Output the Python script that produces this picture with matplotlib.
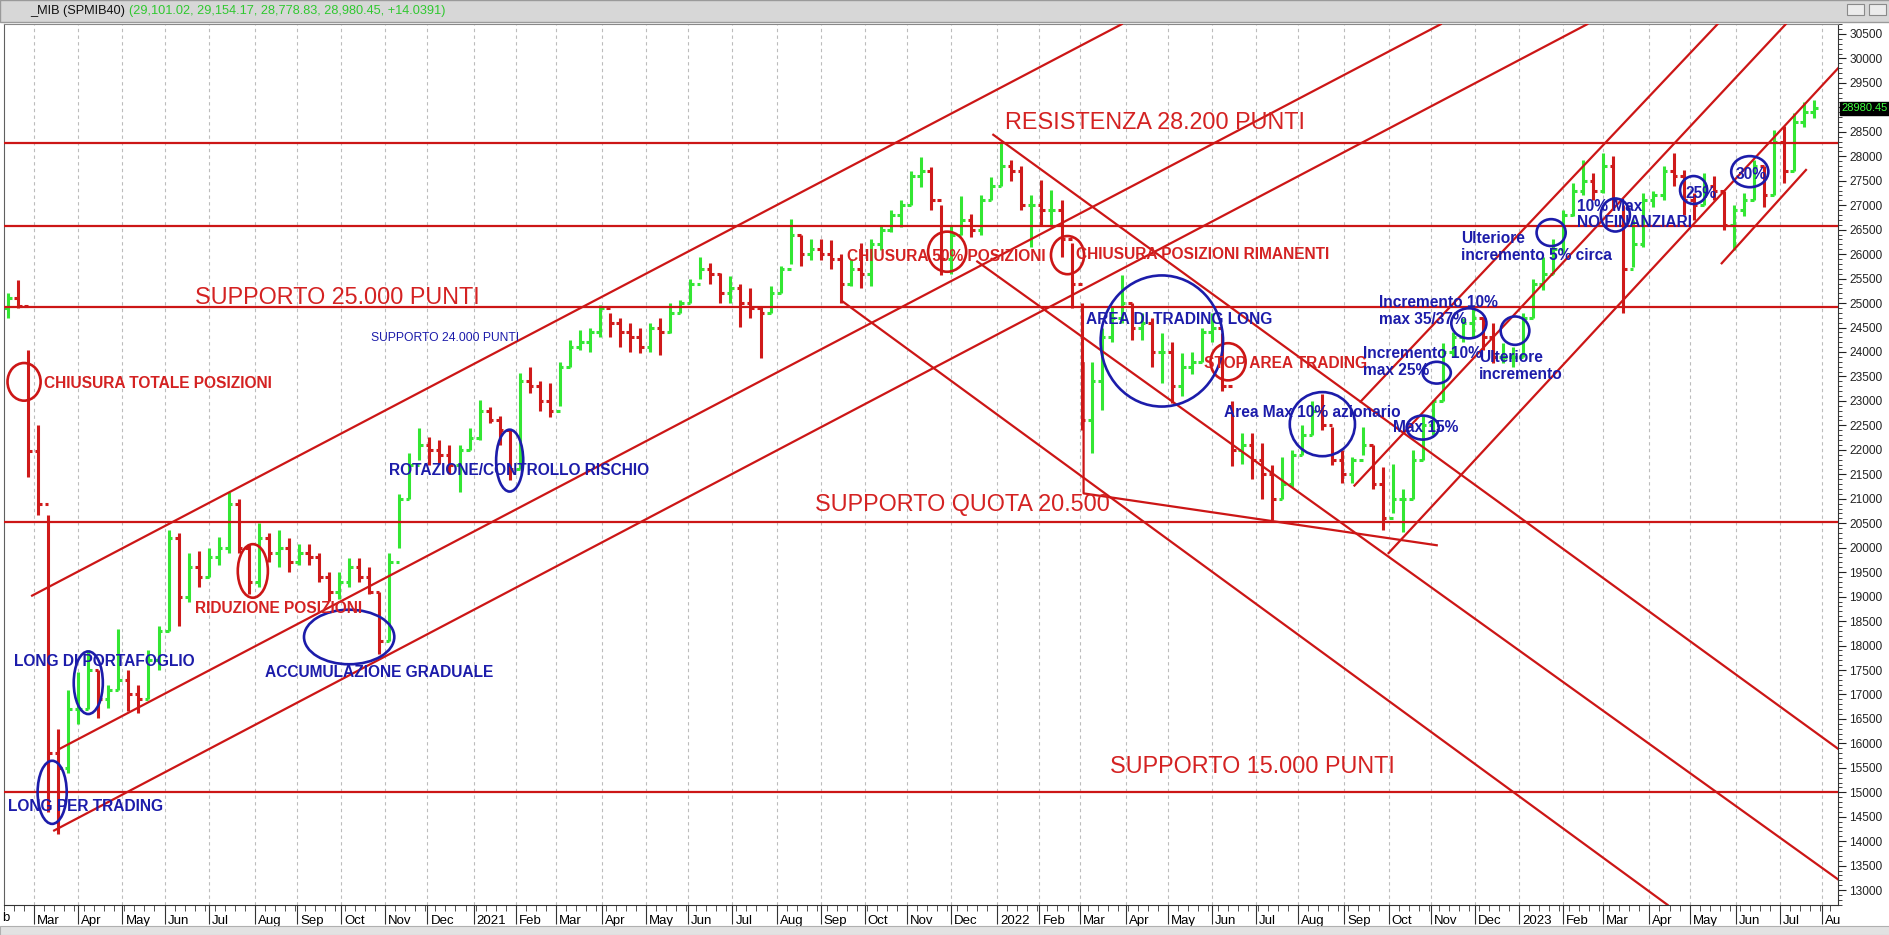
import numpy as np
import pandas as pd
import matplotlib
matplotlib.use("Agg")
import matplotlib.pyplot as plt
from matplotlib.collections import LineCollection
from matplotlib.patches import Ellipse, Rectangle
from matplotlib.transforms import ScaledTranslation, blended_transform_factory

plt.rcParams['font.family'] = ['Liberation Sans', 'DejaVu Sans']

# FTSE MIB, weekly bars (weeks start 2020-02-10)
first_open = 24900
week_high = [
    25200, 25480, 24040,                      # feb 2020
    22500, 20660, 16300, 17100, 17460,        # mar
    17900, 17500, 17200, 18330,               # apr
    17500, 17200, 17900, 18400,               # may
    20370, 20300, 19900, 19930, 20000,        # jun
    20220, 21130, 21000, 20080,               # jul
    20510, 20300, 20370, 20200, 20080,        # aug
    20080, 19900, 19500, 19500,               # sep
    19790, 19790, 19600, 19100,               # oct
    19900, 21090, 21930, 22440, 22270,        # nov
    22200, 22100, 22100, 22440,               # dec
    23020, 22880, 22700, 22400,               # jan 2021
    23570, 23700, 23400, 23360,               # feb
    23800, 24250, 24450, 24500, 24970,        # mar
    24800, 24700, 24590, 24500,               # apr
    24600, 24700, 25000, 25070, 25500,        # may
    25950, 25820, 25620, 25550,               # jun
    25400, 25300, 24930, 25340,               # jul
    25750, 26710, 26400, 26300, 26300,        # aug
    26290, 26000, 25900, 26220,               # sep
    26300, 26600, 26900, 27110,               # oct
    27700, 27990, 27790, 27000, 26600,        # nov
    27180, 26830, 27200, 27580,               # dec
    28265, 27920, 27800, 27200, 27520,        # jan 2022
    27310, 27100, 26220, 25000,               # feb
    23800, 24500, 24930, 25570,               # mar
    25000, 24800, 24700, 24380,               # apr
    24200, 23970, 24000, 24500, 24790,        # may
    24380, 23000, 22340, 22340,               # jun
    22130, 21700, 21860, 22000,               # jul
    22500, 23000, 23150, 22470, 22000,        # aug
    21860, 22470, 22100, 21650,               # sep
    21720, 21200, 22000, 22700, 23020,        # oct
    24180, 24400, 24700, 24930,               # nov
    24720, 24600, 24180, 24100,               # dec
    24790, 25500, 25950, 26300, 26900,        # jan 2023
    27450, 27930, 27650, 28060,               # feb
    28000, 27000, 26700, 27240,               # mar
    27300, 27800, 28060, 27720,               # apr
    27240, 27650, 27600, 27300, 27000,        # may
    27240, 27930, 27800, 28540,               # jun
    28610, 28880, 29100, 29154,               # jul
]
week_low = [
    24700, 24900, 21450,
    20660, 14600, 14150, 15400, 16400,
    16700, 16520, 16730, 17100,
    16660, 16620, 16900, 17500,
    18300, 18400, 18900, 19200, 19400,
    19640, 19900, 19900, 19060,
    19200, 19700, 19600, 19500, 19640,
    19640, 19300, 18910, 18950,
    19200, 19300, 19060, 17820,
    18100, 20000, 21000, 21800, 21700,
    21720, 21500, 21140, 22000,
    22200, 22540, 22100, 21380,
    21600, 23160, 22800, 22680,
    22900, 23700, 24050, 24000, 24300,
    24300, 24110, 24000, 23980,
    24000, 23940, 24390, 24800, 25000,
    25500, 25400, 25000, 25000,
    24520, 24700, 23880, 24800,
    25200, 25800, 25750, 25890, 25890,
    25700, 25000, 25340, 25300,
    25340, 26090, 26450, 26560,
    27000, 27380, 26900, 25575, 25600,
    26400, 26360, 26400, 27100,
    27400, 27500, 26900, 26150, 26600,
    26560, 25950, 24900, 22400,
    21930, 22810, 24200, 24600,
    24250, 24250, 23700, 23360,
    22950, 23100, 23560, 23800, 24200,
    23200, 21660, 21720, 21400,
    21000, 20560, 21000, 21250,
    21900, 22300, 22400, 21700, 21320,
    21320, 21900, 21200, 20360,
    20700, 20330, 21000, 21800, 22300,
    23000, 23900, 24200, 24300,
    24040, 23770, 23770, 23700,
    23900, 24700, 25270, 25600, 26000,
    26770, 27200, 27110, 27240,
    26900, 24790, 25740, 26150,
    26970, 27100, 27400, 26800,
    26700, 27000, 27110, 26500, 26080,
    26770, 27100, 26970, 27200,
    27450, 27700, 28600, 28778,
]
week_close = [
    25100, 24950, 21980,
    20900, 15800, 15500, 16700, 16700,
    17500, 16900, 17100, 17300,
    17000, 16900, 17700, 18300,
    20200, 19000, 19600, 19400, 19800,
    20000, 20900, 20000, 19300,
    20200, 19900, 20000, 19700, 19900,
    19800, 19400, 19100, 19300,
    19600, 19400, 19100, 18100,
    19700, 21000, 21700, 22100, 22000,
    21900, 21700, 22000, 22250,
    22800, 22600, 22400, 21600,
    23400, 23300, 23000, 22800,
    23700, 24100, 24200, 24400, 24900,
    24600, 24400, 24300, 24100,
    24500, 24400, 24800, 25000, 25400,
    25700, 25600, 25200, 25300,
    25000, 24900, 24800, 25200,
    25700, 26400, 26000, 26100, 26000,
    25900, 25400, 25700, 25600,
    26200, 26500, 26800, 27000,
    27600, 27700, 27100, 25900, 26400,
    26700, 26500, 27100, 27400,
    27800, 27700, 27000, 27000, 26900,
    26900, 26300, 25400, 22600,
    23400, 24300, 24700, 25000,
    24500, 24600, 24000, 24000,
    23300, 23700, 23800, 24400, 24500,
    23300, 22000, 22100, 21800,
    21500, 21000, 21300, 21900,
    22300, 22800, 22500, 21800, 21500,
    21800, 22100, 21300, 20600,
    21000, 21000, 21800, 22500, 23000,
    24000, 24300, 24600, 24700,
    24300, 23900, 23900, 23900,
    24700, 25400, 25600, 26100, 26800,
    27300, 27500, 27300, 27800,
    27100, 25700, 26200, 27100,
    27200, 27700, 27600, 27100,
    27000, 27400, 27300, 26600, 26900,
    27100, 27800, 27200, 28300,
    27700, 28700, 28900, 28980,
]
last_price = 28980.45
title_values = '(29,101.02, 29,154.17, 28,778.83, 28,980.45, +14.0391)'

levels = [28270, 26570, 24910, 20520, 15000]

trend_lines = [
    [('2020-02-28', 19020), ('2022-03-30', 30700)],
    [('2020-03-19', 15895), ('2022-11-08', 30700)],
    [('2020-03-16', 14220), ('2023-02-17', 30700)],
    [('2021-12-30', 28440), ('2023-08-11', 15890)],
    [('2021-12-20', 25850), ('2023-08-11', 13220)],
    [('2021-09-16', 25030), ('2023-04-14', 12700)],
    [('2022-03-03', 23770), ('2022-03-03', 21110), ('2022-11-04', 20050)],
    [('2022-09-13', 22985), ('2023-05-19', 30704)],
    [('2022-09-08', 21270), ('2023-07-06', 30704)],
    [('2022-10-03', 19890), ('2023-08-11', 29800)],
    [('2023-05-23', 25813), ('2023-07-20', 27721)],
]

# (date, value, width in days, height in points)
red_circles = [
    ('2020-02-24', 23390, 16.5, 770), ('2020-07-31', 19525, 15, 1095),
    ('2021-11-29', 26050, 19, 820), ('2022-02-21', 25980, 16.5, 780),
    ('2022-06-13', 23800, 17.5, 760),
]
blue_circles = [
    ('2020-04-08', 17240, 14.5, 1280), ('2020-03-13', 15000, 14.5, 1290),
    ('2020-10-07', 18175, 45, 1115), ('2021-01-27', 21780, 13.5, 1265),
    ('2022-04-27', 24225, 61, 2680), ('2022-08-17', 22525, 32.5, 1310),
    ('2022-10-26', 22455, 16, 490), ('2022-11-04', 23577, 14, 445),
    ('2022-11-28', 24586, 17.5, 615), ('2022-12-29', 24436, 14.3, 580),
    ('2023-01-24', 26440, 14.5, 550), ('2023-03-09', 26800, 14.5, 675),
    ('2023-05-03', 27311, 13.5, 570), ('2023-06-12', 27686, 18.5, 635),
]

red_notes = [
    ('CHIUSURA TOTALE POSIZIONI', '2020-03-09', 23366),
    ('RIDUZIONE POSIZIONI', '2020-06-22', 18755),
    ('CHIUSURA 50% POSIZIONI', '2021-09-20', 25948),
    ('CHIUSURA POSIZIONI RIMANENTI', '2022-02-25', 25983),
    ('STOP AREA TRADING', '2022-05-26', 23775),
]
big_notes = [
    ('RESISTENZA 28.200 PUNTI', '2022-01-07', 28681),
    ('SUPPORTO 25.000 PUNTI', '2020-06-22', 25124),
    ('SUPPORTO QUOTA 20.500', '2021-08-27', 20878),
    ('SUPPORTO 15.000 PUNTI', '2022-03-22', 15528),
]
blue_notes = [
    ('LONG DI PORTAFOGLIO', '2020-02-17', 17664),
    ('LONG PER TRADING', '2020-02-12', 14704),
    ('ACCUMULAZIONE GRADUALE', '2020-08-10', 17439),
    ('ROTAZIONE/CONTROLLO RISCHIO', '2020-11-04', 21575),
    ('AREA DI TRADING LONG', '2022-03-04', 24654),
    ('Area Max 10% azionario', '2022-06-09', 22763),
    ('Max 15%', '2022-10-05', 22447),
    ('Incremento 10%\nmax 25%', '2022-09-14', 23791),
    ('Incremento 10%\nmax 35/37%', '2022-09-26', 24834),
    ('Ulteriore\nincremento', '2022-12-05', 23714),
    ('Ulteriore\nincremento 5% circa', '2022-11-22', 26140),
    ('10% Max\nNO FINANZIARI', '2023-02-10', 26811),
    ('25%', '2023-04-27', 27244),
    ('30%', '2023-06-01', 27618),
]

RED = '#cc1616'
TXT_RED = '#d42222'
BLUE = '#1c1caa'
GREEN = '#33e633'
BAR_RED = '#cf1a1a'
NARROW = ['Liberation Sans Narrow', 'Liberation Sans']

bdays = pd.bdate_range('2020-01-01', '2023-12-31')


def xi(d):
    return float(bdays.searchsorted(pd.Timestamp(d)))


W, H = 1890, 935
fig = plt.figure(figsize=(W / 100, H / 100), dpi=100)
ax = fig.add_axes([4 / W, 1 - 905 / H, (1838 - 4) / W, (905 - 24) / H])

x_mar, x_aug = xi('2020-03-02'), xi('2023-08-01')
ppd = (1822 - 30.7) / (x_aug - x_mar)
ax.set_xlim(x_mar - (30.7 - 4) / ppd, x_aug + (1838 - 1822) / ppd)
ax.set_ylim(12697, 30704)

# weekly OHLC bars
weeks = pd.date_range('2020-02-10', periods=len(week_close), freq='W-MON')
opens = [first_open] + week_close[:-1]
up, dn = [], []
for d, o, h, l, c in zip(weeks, opens, week_high, week_low, week_close):
    x = xi(d)
    segs = [[(x + 2, l), (x + 2, h)], [(x + 0.2, o), (x + 2, o)], [(x + 2, c), (x + 3.8, c)]]
    (up if c >= o else dn).extend(segs)
ax.add_collection(LineCollection(up, colors=GREEN, linewidths=2.2, zorder=2))
ax.add_collection(LineCollection(dn, colors=BAR_RED, linewidths=2.2, zorder=2))

for lv in levels:
    ax.axhline(lv, color=RED, lw=1.6, zorder=3)
for pts in trend_lines:
    ax.plot([xi(p[0]) for p in pts], [p[1] for p in pts], color=RED, lw=1.6, zorder=3)

for circles, col in ((red_circles, RED), (blue_circles, BLUE)):
    for d, v, wd, hv in circles:
        ax.add_patch(Ellipse((xi(d), v), wd, hv, fill=False, ec=col, lw=1.9, zorder=4))

for txt, d, v in red_notes:
    ax.text(xi(d), v, txt, color=TXT_RED, fontsize=11.2, fontweight='bold',
            ha='left', va='center', zorder=5)
for txt, d, v in big_notes:
    ax.text(xi(d), v, txt, color=TXT_RED, fontsize=16.8, ha='left', va='center', zorder=5)
for txt, d, v in blue_notes:
    ax.text(xi(d), v, txt, color=BLUE, fontsize=11.2, fontweight='bold',
            ha='left', va='center', linespacing=1.15, zorder=5)
ax.text(xi('2020-10-22'), 24276, 'SUPPORTO 24.000 PUNTI', color=BLUE, fontsize=8.7,
        ha='left', va='center', zorder=5)

# price scale on the right
ax.yaxis.tick_right()
yt = np.arange(13000, 30501, 500)
ax.set_yticks(yt)
ax.set_yticklabels(['' if v == 29000 else str(v) for v in yt])
ax.set_yticks(np.arange(12700, 30701, 100), minor=True)
ax.tick_params(axis='y', which='major', length=6, labelsize=8.6, pad=2, colors='#222222')
ax.tick_params(axis='y', which='minor', length=3, color='#222222')

# month axis
months = pd.date_range('2020-03-01', '2023-08-01', freq='MS')
mpos = [xi(m) for m in months]
mlab = [str(m.year) if m.month == 1 else m.strftime('%b') for m in months]
mlab[-1] = 'Au'
ax.set_xticks(mpos)
ax.set_xticklabels(mlab)
ax.set_xticks([xi(m) for m in pd.date_range('2020-02-10', '2023-08-07', freq='W-MON')], minor=True)
ax.tick_params(axis='x', which='major', length=14, pad=1, labelsize=9.5, color='#333333')
ax.tick_params(axis='x', which='minor', length=4, color='#333333')
shift = ScaledTranslation(3 / 100, 8 / 72, fig.dpi_scale_trans)
for lbl in ax.get_xticklabels():
    lbl.set_horizontalalignment('left')
    lbl.set_family(NARROW)
    lbl.set_transform(lbl.get_transform() + shift)
# tail of the February 2020 label, cut by the left border
fig.text(2 / W, 1 - 912 / H, 'b', ha='left', va='top', fontsize=9.5, family=NARROW)

ax.grid(True, axis='x', which='major', color='#bcbcbc', linestyle=(0, (3, 3)), lw=0.8)
ax.set_axisbelow(True)
for side, col in (('left', '#606060'), ('bottom', '#333333'), ('top', '#888888'), ('right', '#333333')):
    ax.spines[side].set_color(col)

ax.text(1.002, last_price, f'{last_price:.2f}', transform=blended_transform_factory(ax.transAxes, ax.transData),
        color='#40ff40', fontsize=8, ha='left', va='center', zorder=10, clip_on=False,
        bbox=dict(fc='black', ec='black', pad=1.0))

# window chrome
fig.add_artist(Rectangle((0, 1 - 22 / H), 1, 22 / H, transform=fig.transFigure,
                         fc='#d7d7d7', ec='#9a9a9a', lw=1))
fig.add_artist(Rectangle((0, 0), 1, 9 / H, transform=fig.transFigure, fc='#e2e2e2', ec='#b0b0b0', lw=0.8))
for bx in (1847, 1869):
    fig.add_artist(Rectangle((bx / W, 1 - 15 / H), 17 / W, 11 / H, transform=fig.transFigure,
                             fc='#ececec', ec='#8a8a8a', lw=0.8))
t1 = fig.text(30 / W, 1 - 11 / H, '_MIB (SPMIB40)', fontsize=9.2, va='center', color='#111111', family=NARROW)
fig.add_artist(plt.Annotation(title_values, xy=(1, 0.5), xycoords=t1, xytext=(4, 0),
                              textcoords='offset pixels', va='center', fontsize=9.2,
                              color='#2fc82f', family=NARROW))

fig.savefig('out.png', dpi=100)
